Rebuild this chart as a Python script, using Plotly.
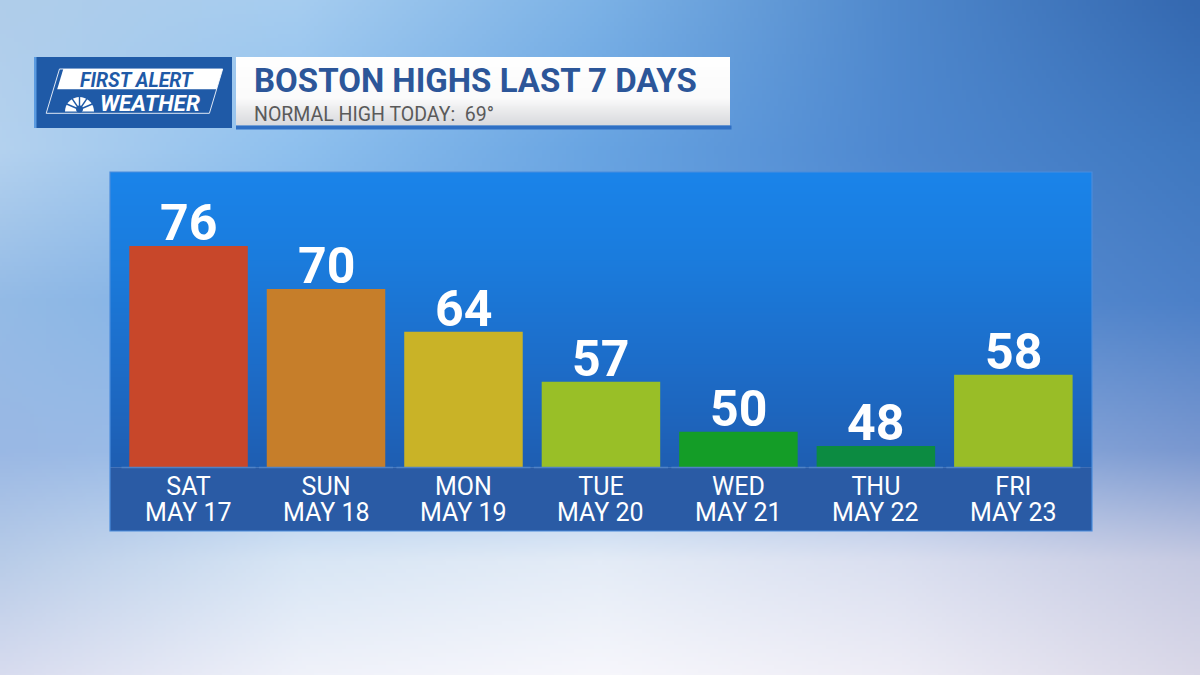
import base64, math, struct, zlib
import numpy as np
import plotly.graph_objects as go

# ---------------- data ----------------
DAYS = ["SAT", "SUN", "MON", "TUE", "WED", "THU", "FRI"]
DATES = ["MAY 17", "MAY 18", "MAY 19", "MAY 20", "MAY 21", "MAY 22", "MAY 23"]
HIGHS = [76, 70, 64, 57, 50, 48, 58]
BAR_COLORS = ["#c8472a", "#c67e2a", "#c9b327", "#99bf27", "#149d27", "#0c8b41", "#99bd27"]
TITLE = "BOSTON HIGHS LAST 7 DAYS"
NORMAL_HIGH = 69
SUBTITLE = f"NORMAL HIGH TODAY:  {NORMAL_HIGH}°"
Y_RANGE = [45, 86]

W, H = 1200, 675


def PX(x):
    return x / W


def PY(y):
    return 1 - y / H


def hex2rgb(h):
    h = h.lstrip("#")
    return [int(h[i:i + 2], 16) for i in (0, 2, 4)]


def png_uri(arr):
    arr = np.clip(arr, 0, 255).astype(np.uint8)
    h, w, _ = arr.shape
    raw = b"".join(b"\x00" + arr[i].tobytes() for i in range(h))

    def chunk(tag, data):
        return struct.pack(">I", len(data)) + tag + data + struct.pack(">I", zlib.crc32(tag + data) & 0xFFFFFFFF)

    png = b"\x89PNG\r\n\x1a\n" + chunk(b"IHDR", struct.pack(">IIBBBBB", w, h, 8, 2, 0, 0, 0)) \
        + chunk(b"IDAT", zlib.compress(raw, 9)) + chunk(b"IEND", b"")
    return "data:image/png;base64," + base64.b64encode(png).decode()


# ---------------- sky background (decoration) ----------------
sky_x = [0, 300, 600, 900, 1200]
sky_y = [0, 150, 300, 450, 560, 675]
sky_grid = [
    ["#b0cdea", "#a6cdf0", "#7cb2e6", "#4f88cc", "#3468b0"],
    ["#b4d2ef", "#8ec0ee", "#68a4e2", "#4e88d0", "#3f78c0"],
    ["#94bbe6", "#7aaee6", "#6aa0de", "#5a90d4", "#4c80c8"],
    ["#9ab8e4", "#9cc0ea", "#98bee8", "#90b0e0", "#7a98d0"],
    ["#b8cce8", "#d8e6f5", "#e4ecf7", "#dadff0", "#c6cae2"],
    ["#d8dcef", "#f0f2fa", "#f7f7fc", "#eeedf6", "#dad8e8"],
]
G = np.array([[hex2rgb(c) for c in row] for row in sky_grid], dtype=float)
SW, SH = 300, 169
gx = (np.arange(SW) + 0.5) * W / SW
gy = (np.arange(SH) + 0.5) * H / SH
tmp = np.empty((len(sky_y), SW, 3))
for r in range(len(sky_y)):
    for c in range(3):
        tmp[r, :, c] = np.interp(gx, sky_x, G[r, :, c])
sky = np.empty((SH, SW, 3))
for j in range(SW):
    for c in range(3):
        sky[:, j, c] = np.interp(gy, sky_y, tmp[:, j, c])


def vgrad(stops, n):
    ys = np.linspace(0, 1, n)
    pos = [s[0] for s in stops]
    cols = np.array([hex2rgb(s[1]) for s in stops], dtype=float)
    out = np.empty((n, 2, 3))
    for c in range(3):
        col = np.interp(ys, pos, cols[:, c])
        out[:, 0, c] = col
        out[:, 1, c] = col
    return out


panel_img = vgrad([(0, "#1a84ea"), (0.3, "#1b7cdd"), (0.65, "#1d6dc9"), (1, "#1f5eb2")], 300)
title_img = vgrad([(0, "#ffffff"), (0.6, "#fbfbfb"), (1, "#d9dade")], 70)

# ---------------- panel geometry (px) ----------------
PANEL_L, PANEL_R, PANEL_T, PANEL_B = 110, 1092, 172, 531
BASE_Y = 467.5
X_DOM = [PX(119.8), PX(1082.1)]
Y_DOM = [PY(BASE_Y), PY(BASE_Y - (Y_RANGE[1] - Y_RANGE[0]) * 7.143)]

fig = go.Figure()
fig.add_trace(go.Bar(
    x=DAYS, y=HIGHS,
    marker=dict(color=BAR_COLORS, line=dict(width=0)),
    hoverinfo="skip", showlegend=False,
))

images = [
    dict(source=png_uri(sky), xref="paper", yref="paper", x=0, y=1, sizex=1, sizey=1,
         xanchor="left", yanchor="top", sizing="stretch", layer="below"),
    dict(source=png_uri(panel_img), xref="paper", yref="paper", x=PX(PANEL_L), y=PY(PANEL_T),
         sizex=PX(PANEL_R) - PX(PANEL_L), sizey=PY(PANEL_T) - PY(BASE_Y),
         xanchor="left", yanchor="top", sizing="stretch", layer="below"),
    dict(source=png_uri(title_img), xref="paper", yref="paper", x=PX(236), y=PY(57),
         sizex=PX(730) - PX(236), sizey=PY(57) - PY(125.5),
         xanchor="left", yanchor="top", sizing="stretch", layer="below"),
]

shapes = []
# label band
shapes.append(dict(type="rect", xref="paper", yref="paper", layer="below",
                   x0=PX(PANEL_L), x1=PX(PANEL_R), y0=PY(PANEL_B), y1=PY(BASE_Y),
                   fillcolor="#2a5ba5", line=dict(width=0)))
# panel border
shapes.append(dict(type="rect", xref="paper", yref="paper", layer="below",
                   x0=PX(PANEL_L), x1=PX(PANEL_R), y0=PY(PANEL_B), y1=PY(PANEL_T),
                   fillcolor="rgba(0,0,0,0)", line=dict(color="#4a8cdc", width=1.2)))
# separators under bars
for i in range(len(DAYS)):
    shapes.append(dict(type="line", xref="x", yref="y domain", layer="above",
                       x0=i - 0.488, x1=i + 0.488, y0=0, y1=0,
                       line=dict(color="#4f82c6", width=1.3)))
# title underline
shapes.append(dict(type="rect", xref="paper", yref="paper", layer="below",
                   x0=PX(236), x1=PX(731.5), y0=PY(129.5), y1=PY(125.5),
                   fillcolor="#2f6fc4", line=dict(width=0)))
# logo box
shapes.append(dict(type="rect", xref="paper", yref="paper", layer="below",
                   x0=PX(34), x1=PX(232), y0=PY(128), y1=PY(57),
                   fillcolor="#1f5aa7", line=dict(width=0)))
shapes.append(dict(type="rect", xref="paper", yref="paper", layer="below",
                   x0=PX(34), x1=PX(36.5), y0=PY(128), y1=PY(57),
                   fillcolor="#5b9be0", line=dict(width=0)))


def ppath(pts, close=True):
    s = "M " + " L ".join(f"{PX(x):.5f},{PY(y):.5f}" for x, y in pts)
    return s + (" Z" if close else "")


# logo outline parallelogram
shapes.append(dict(type="path", xref="paper", yref="paper", layer="below",
                   path=ppath([(59.5, 69), (222.7, 69), (209.4, 113.3), (46.2, 113.3)]),
                   fillcolor="rgba(0,0,0,0)", line=dict(color="#dfe8f5", width=1)))
# white band of logo
shapes.append(dict(type="path", xref="paper", yref="paper", layer="below",
                   path=ppath([(63.3, 69), (222.7, 69), (216.6, 89.3), (57.2, 89.3)]),
                   fillcolor="#ffffff", line=dict(width=0)))
# peacock fan (decoration)
cx, cy, rr = 79.5, 111.5, 14.5
fan = [(cx + rr * math.cos(math.radians(a)), cy - rr * math.sin(math.radians(a))) for a in range(180, -1, -10)]
shapes.append(dict(type="path", xref="paper", yref="paper", layer="below",
                   path=ppath([(cx, cy)] + fan), fillcolor="#ffffff", line=dict(width=0)))
for a in (30, 60, 90, 120, 150):
    shapes.append(dict(type="path", xref="paper", yref="paper", layer="below",
                       path=ppath([(cx, cy - 2),
                                   (cx + (rr + 1) * math.cos(math.radians(a)),
                                    cy - (rr + 1) * math.sin(math.radians(a)))], close=False),
                       line=dict(color="#1f5aa7", width=1.4)))
shapes.append(dict(type="circle", xref="paper", yref="paper", layer="below",
                   x0=PX(cx - 3.5), x1=PX(cx + 3.5), y0=PY(cy + 1), y1=PY(cy - 6),
                   fillcolor="#1f5aa7", line=dict(width=0)))

annotations = []
# value labels
for d, v in zip(DAYS, HIGHS):
    annotations.append(dict(x=d, y=v, xref="x", yref="y", text=str(v), showarrow=False,
                            yanchor="bottom", yshift=-8,
                            font=dict(family="Roboto", size=50, color="white", weight="bold")))
# date labels (second line under day names)
for d, dt in zip(DAYS, DATES):
    annotations.append(dict(x=d, y=PY(512.5), xref="x", yref="paper", text=dt, showarrow=False,
                            yanchor="middle",
                            font=dict(family="Roboto", size=25, color="white")))
# title block
annotations.append(dict(x=PX(253), y=PY(101.2), xref="paper", yref="paper", text=TITLE, showarrow=False,
                        xanchor="left", yanchor="bottom", borderpad=0,
                        font=dict(family="Roboto", size=33, color="#2c5699", weight="bold")))
annotations.append(dict(x=PX(253), y=PY(101.6), xref="paper", yref="paper", text=SUBTITLE, showarrow=False,
                        xanchor="left", yanchor="top", borderpad=0,
                        font=dict(family="Roboto", size=19.5, color="#5a5a5a")))
# logo text
annotations.append(dict(x=PX(137), y=PY(80.5), xref="paper", yref="paper", text="<b><i>FIRST ALERT</i></b>",
                        showarrow=False, xanchor="center", yanchor="middle",
                        font=dict(family="Roboto", size=19.5, color="#1f5aa7")))
annotations.append(dict(x=PX(150), y=PY(103.5), xref="paper", yref="paper", text="<b><i>WEATHER</i></b>",
                        showarrow=False, xanchor="center", yanchor="middle",
                        font=dict(family="Roboto", size=22.5, color="white")))

fig.update_layout(
    width=W, height=H,
    margin=dict(l=0, r=0, t=0, b=0),
    paper_bgcolor="#9fc0e6", plot_bgcolor="rgba(0,0,0,0)",
    bargap=0.138, showlegend=False, hovermode=False,
    images=images, shapes=shapes, annotations=annotations,
    xaxis=dict(domain=X_DOM, showgrid=False, zeroline=False, showline=False, ticks="",
               tickfont=dict(family="Roboto", size=25, color="white"), ticklabelstandoff=1,
               fixedrange=True),
    yaxis=dict(domain=Y_DOM, range=Y_RANGE, visible=False, showgrid=False, zeroline=False,
               fixedrange=True),
)

fig.write_html("out.html", post_script="document.body.style.margin='0';",
               config={"displayModeBar": False})
